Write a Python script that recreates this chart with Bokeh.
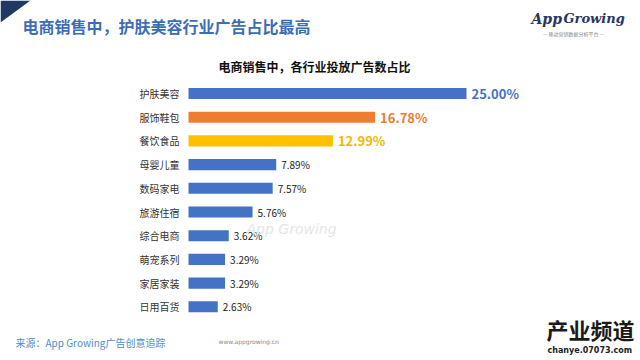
from bokeh.plotting import figure
from bokeh.models import Range1d, Label, ColumnDataSource
from bokeh.core.properties import value
from bokeh.embed import file_html
from bokeh.resources import INLINE

categories = ["护肤美容", "服饰鞋包", "餐饮食品", "母婴儿童", "数码家电", "旅游住宿", "综合电商", "萌宠系列", "家居家装", "日用百货"]
shares = [25.00, 16.78, 12.99, 7.89, 7.57, 5.76, 3.62, 3.29, 3.29, 2.63]
bar_colors = ["#4472C4", "#ED7D31", "#FFC000"] + ["#4472C4"] * 7
label_colors = ["#4472C4", "#ED7D31", "#F2B705"] + ["#222222"] * 7
label_sizes = ["13px"] * 3 + ["10px"] * 7
label_styles = ["bold"] * 3 + ["normal"] * 7

FONT = "Noto Sans CJK SC"
W, H = 640, 360
PX0, PXU = 188.0, 11.12   # pixel of 0% and pixels per percent
PY0, PYU = 93.0, 23.7     # pixel of first row center and pixels per row

p = figure(width=W, height=H, output_backend="svg", toolbar_location=None,
           x_range=Range1d(-PX0 / PXU, (W - PX0) / PXU),
           y_range=Range1d((H - PY0) / PYU, -PY0 / PYU),
           min_border=0, background_fill_color="white", border_fill_color="white")
p.axis.visible = False
p.grid.visible = False
p.outline_line_color = None

idx = list(range(len(categories)))
src = ColumnDataSource(dict(y=idx, v=shares, cat=categories, col=bar_colors,
                            lab=["%.2f%%" % s for s in shares], lcol=label_colors,
                            lsize=label_sizes, lstyle=label_styles))

p.hbar(y="y", left=0, right="v", height=0.47, fill_color="col", line_color=None, source=src)
p.text(x=0, y="y", text="cat", x_offset=-9, text_align="right", text_baseline="middle",
       text_font=value(FONT), text_font_size="10px", text_color="#333333", source=src)
p.text(x="v", y="y", text="lab", x_offset=5, text_align="left", text_baseline="middle",
       text_font=value(FONT), text_font_size="lsize", text_font_style="lstyle",
       text_color="lcol", source=src)

# decorative corner
p.patch(x=[-PX0 / PXU, (30 - PX0) / PXU, -PX0 / PXU], y=[-PY0 / PYU, -PY0 / PYU, (22 - PY0) / PYU],
        fill_color="#1F3864", line_color=None)

def lab(text, x, y_top, size, color, bold=False, align="left", font=FONT, italic=False, alpha=1.0):
    style = "bold" if bold else "normal"
    if italic:
        style = "bold italic" if bold else "italic"
    p.add_layout(Label(x=x, y=H - y_top, x_units="screen", y_units="screen", text=text,
                       text_font=font, text_font_size=size, text_color=color,
                       text_font_style=style, text_align=align, text_baseline="middle",
                       text_alpha=alpha))

lab("电商销售中，护肤美容行业广告占比最高", 22, 25, "16px", "#3D6DB4", bold=True)
lab("电商销售中，各行业投放广告数占比", 314, 66, "12px", "#111111", bold=True, align="center")
lab("App", 531, 18, "14px", "#2A3560", bold=True, italic=True, font="DejaVu Serif")
lab("Growing", 563, 18, "13px", "#2A3560", bold=True, italic=True, font="DejaVu Serif")
lab("— 移动营销数据分析平台 —", 573, 33, "5px", "#888888", align="center")
lab("App Growing", 246, 228, "14px", "#E6E6E6", italic=True, font="DejaVu Sans")
lab("来源：App Growing广告创意追踪", 15, 342, "10px", "#4F8CC9")
lab("www.appgrowing.cn", 218, 341, "6px", "#888888", font="DejaVu Sans")
lab("产业频道", 546, 328, "22px", "#1A1A1A", bold=True)
lab("chanye.07073.com", 547, 350, "8px", "#222222", bold=True, font="DejaVu Sans")

open("out.html", "w").write(file_html(p, INLINE))
